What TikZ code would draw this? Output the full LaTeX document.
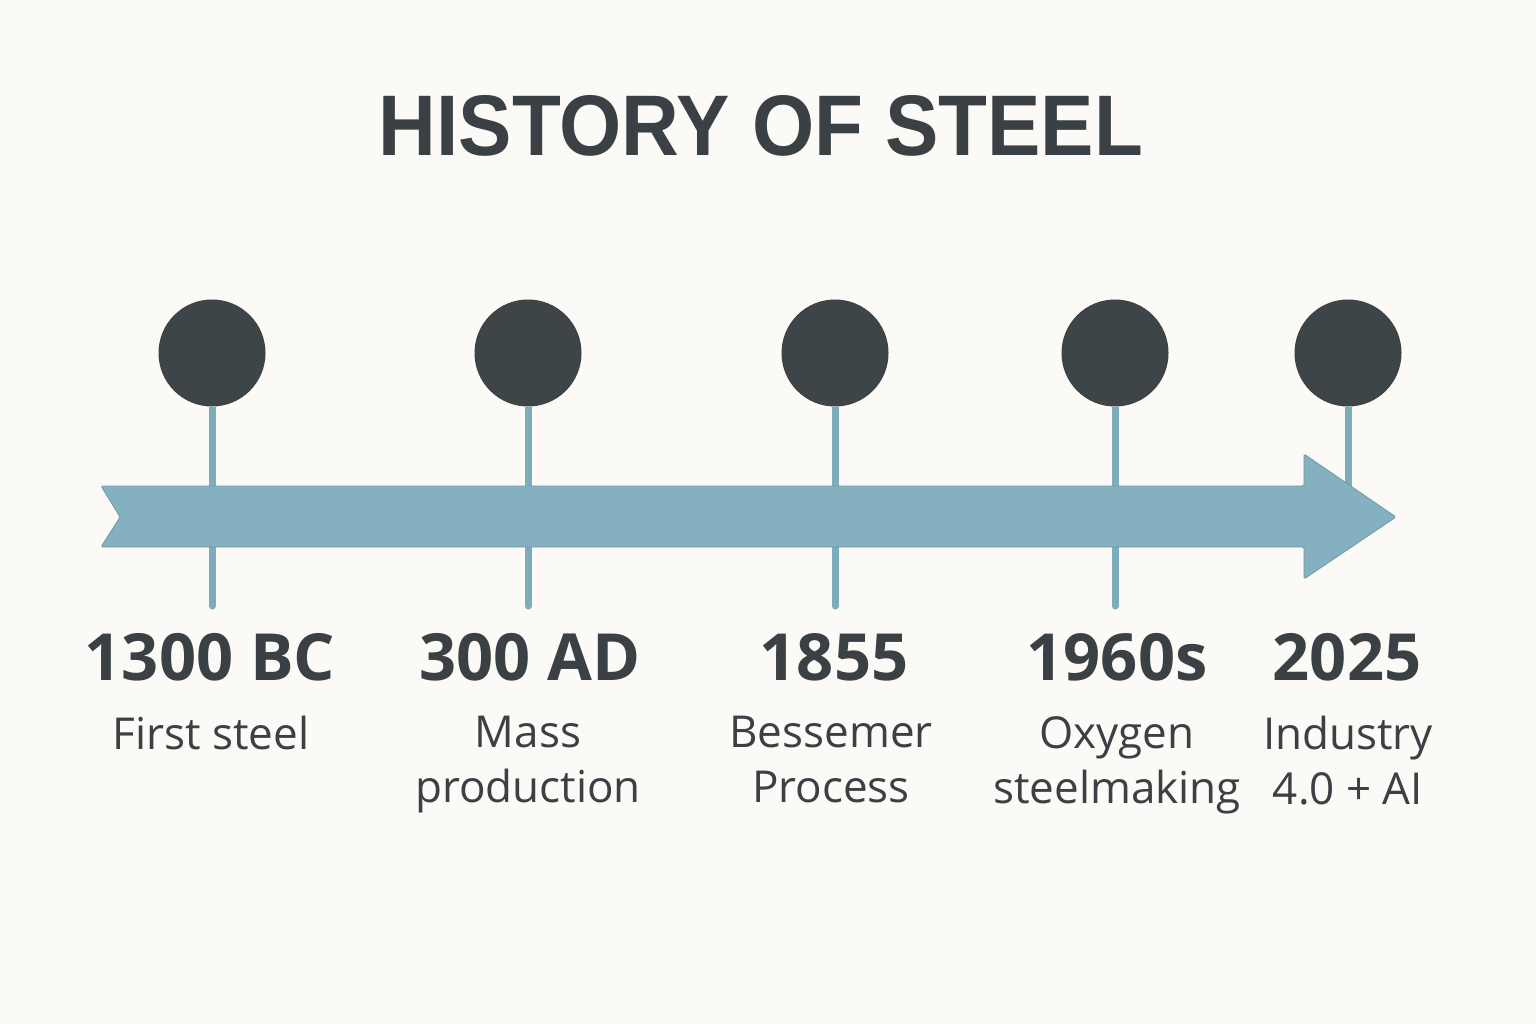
\documentclass[tikz,border=0pt]{standalone}
\usepackage{fontspec}
\setmainfont{Open Sans}
\newfontfamily\titlefont[FakeStretch=0.93]{Liberation Sans}
\definecolor{paper}{HTML}{FBFAF7}
\definecolor{ink}{HTML}{3A4043}
\definecolor{dotgray}{HTML}{3E4548}
\definecolor{steelblue}{HTML}{84B0C0}
\definecolor{stemblue}{HTML}{7DACBD}
\begin{document}
\begin{tikzpicture}[x=1pt, y=-1pt,
  dot/.style={draw=black!75, line width=1pt, circle, fill=dotgray, minimum size=106pt, inner sep=0pt},
  stem/.style={draw=stemblue, line width=7pt},
  year/.style={anchor=base, inner sep=0pt, text=ink, font=\fontsize{65}{76}\selectfont\bfseries},
  desc/.style={anchor=north, inner sep=0pt, text=ink, align=center, font=\fontsize{44}{55}\selectfont}]
% Canvas
\fill[paper] (0,0) rectangle (1536,1024);
\useasboundingbox (0,0) rectangle (1536,1024);

% Title
\node[anchor=base, inner sep=0pt, text=ink, font=\titlefont\bfseries\fontsize{86}{100}\selectfont] (title) at (761,156) {HISTORY OF STEEL};

% Milestone dots
\node[dot] (c1) at (212,353) {};
\node[dot] (c2) at (528,353) {};
\node[dot] (c3) at (835,353) {};
\node[dot] (c4) at (1115,353) {};
\node[dot] (c5) at (1348,353) {};

% Points on the timeline bar
\coordinate (t1) at (212,490); \coordinate (b1) at (212,543); \coordinate (e1) at (212,606);
\coordinate (t2) at (528,490); \coordinate (b2) at (528,543); \coordinate (e2) at (528,606);
\coordinate (t3) at (835,490); \coordinate (b3) at (835,543); \coordinate (e3) at (835,606);
\coordinate (t4) at (1115,490); \coordinate (b4) at (1115,543); \coordinate (e4) at (1115,606);
\coordinate (t5) at (1348,490);

% Stems (above and below the bar)
\draw[stem] (c1.south) -- (t1);
\draw[stem] (c2.south) -- (t2);
\draw[stem] (c3.south) -- (t3);
\draw[stem] (c4.south) -- (t4);
\draw[stem] (c5.south) -- (t5);
\draw[stem, line cap=round] (b1) -- (e1);
\draw[stem, line cap=round] (b2) -- (e2);
\draw[stem, line cap=round] (b3) -- (e3);
\draw[stem, line cap=round] (b4) -- (e4);

% Timeline bar with notched tail
\draw[fill=steelblue, draw=steelblue!88!black, line width=0.8pt, rounded corners=1.5pt]
  (101,486) -- (1304,486) -- (1304,454) -- (1396,517) -- (1304,579)
  -- (1304,547) -- (101,547) -- (120,517) -- cycle;

% Years
\node[year] (y1) at (210,680) {1300 BC};
\node[year] (y2) at (530,680) {300 AD};
\node[year] (y3) at (834,680) {1855};
\node[year] (y4) at (1117,680) {1960s};
\node[year] (y5) at (1347,680) {2025};

% Descriptions
\node[desc] (d1) at (211,716) {First steel};
\node[desc] (d2) at (528,716) {Mass\\production};
\node[desc] (d3) at (831,716) {Bessemer\\Process};
\node[desc] (d4) at (1117,716) {Oxygen\\steelmaking};
\node[desc] (d5) at (1348,716) {Industry\\4.0 + AI};
\end{tikzpicture}
\end{document}
